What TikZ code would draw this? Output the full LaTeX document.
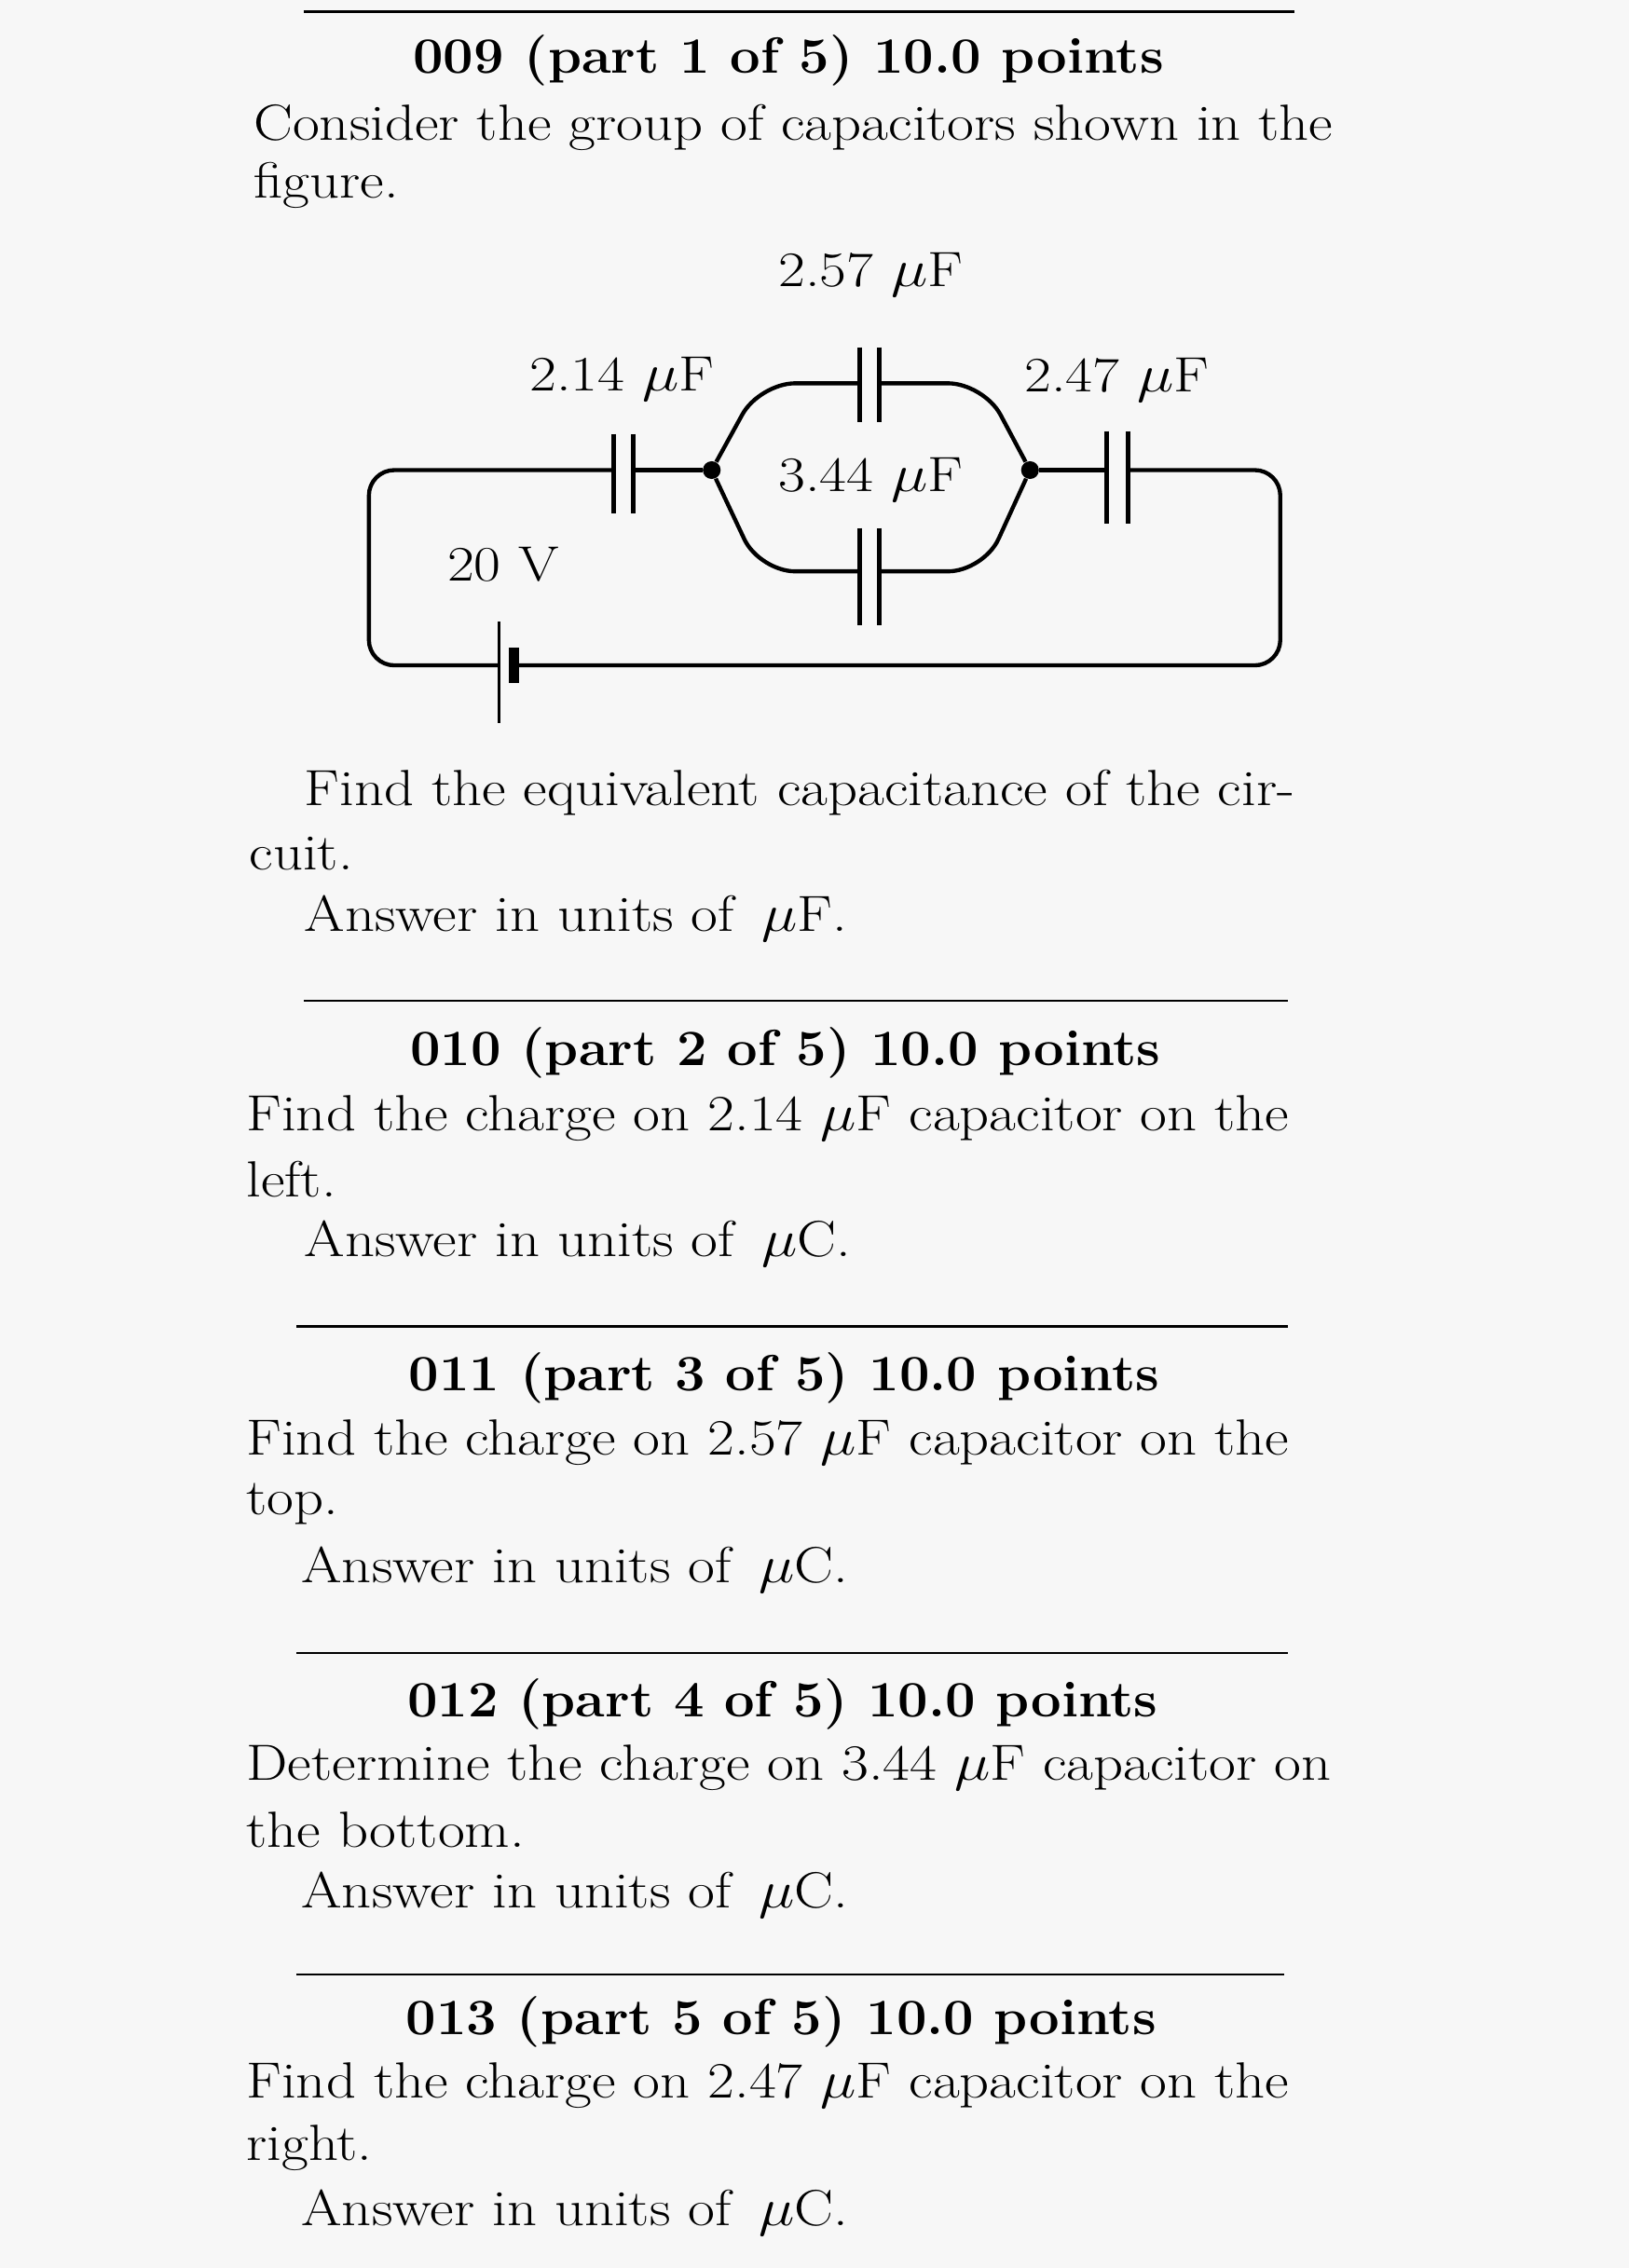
\documentclass[tikz,border=0pt]{standalone}
\begin{document}
\begin{tikzpicture}[x=0.02cm,y=-0.02cm,
  txt/.style={anchor=west,inner sep=0,font=\fontsize{20}{22}\selectfont,transform shape,xscale=1.15},
  hdr/.style={anchor=center,inner sep=0,font=\fontsize{20}{22}\selectfont\bfseries,transform shape,xscale=1.06},
  lbl/.style={anchor=center,inner sep=0,font=\fontsize{19.5}{22}\selectfont,transform shape,xscale=1.18},
  wire/.style={line width=1.6pt,line join=round},
  plate/.style={line width=1.8pt},
  rule/.style={line width=0.8pt},
  dot/.style={circle,fill=black,inner sep=0,minimum size=7pt}]
\fill[gray!6] (0,0) rectangle (1126,1568);
\useasboundingbox (0,0) rectangle (1126,1568);
% rules
\foreach \y/\a/\b in {8/210/895,692/210/890,917/205/890,1143/205/890,1365/205/888}
  \draw[rule] (\a,\y) -- (\b,\y);
% text
\node[hdr] (h1) at (545,42) {009 (part 1 of 5) 10.0 points};
\node[txt] (t1) at (175,88) {Consider the group of capacitors shown in the};
\node[txt] (t2) at (175,128) {figure.};
\node[txt] (t3) at (210,548) {Find the equivalent capacitance of the cir-};
\node[txt] (t4) at (172,590) {cuit.};
\node[txt] (t5) at (210,635) {Answer in units of \,$\mu$F.};
\node[hdr] (h2) at (543,728) {010 (part 2 of 5) 10.0 points};
\node[txt] (t6) at (170,773) {Find the charge on 2.14 $\mu$F capacitor on the};
\node[txt] (t7) at (170,815) {left.};
\node[txt] (t8) at (210,860) {Answer in units of \,$\mu$C.};
\node[hdr] (h3) at (542,953) {011 (part 3 of 5) 10.0 points};
\node[txt] (t9) at (170,997) {Find the charge on 2.57 $\mu$F capacitor on the};
\node[txt] (t10) at (170,1040) {top.};
\node[txt] (t11) at (208,1085) {Answer in units of \,$\mu$C.};
\node[hdr] (h4) at (541,1178) {012 (part 4 of 5) 10.0 points};
\node[txt] (t12) at (170,1222) {Determine the charge on 3.44 $\mu$F capacitor on};
\node[txt] (t13) at (170,1265) {the bottom.};
\node[txt] (t14) at (208,1310) {Answer in units of \,$\mu$C.};
\node[hdr] (h5) at (540,1398) {013 (part 5 of 5) 10.0 points};
\node[txt] (t15) at (170,1442) {Find the charge on 2.47 $\mu$F capacitor on the};
\node[txt] (t16) at (170,1485) {right.};
\node[txt] (t17) at (208,1530) {Answer in units of \,$\mu$C.};
% circuit coordinates
\coordinate (L) at (492,325);
\coordinate (R) at (712,325);
\node[dot] (nL) at (L) {};
\node[dot] (nR) at (R) {};
% left loop and 2.14
\draw[wire,rounded corners=10pt] (424,325) -- (255,325) -- (255,460) -- (345,460);
\draw[wire] (438,325) -- (nL);
\draw[plate] (424,300) -- (424,355) (438,300) -- (438,355);
% 2.47 and right
\draw[wire] (nR) -- (765,325);
\draw[plate] (765,298) -- (765,362) (780,298) -- (780,362);
\draw[wire,rounded corners=10pt] (780,325) -- (885,325) -- (885,460) -- (355,460);
% battery
\draw[line width=1.4pt] (345,430) -- (345,500);
\draw[line width=4pt] (355,448) -- (355,472);
% top branch 2.57
\draw[wire,rounded corners=14pt] (nL) -- (525,265) -- (594,265);
\draw[wire,rounded corners=14pt] (608,265) -- (680,265) -- (nR);
\draw[plate] (594,240) -- (594,292) (608,240) -- (608,292);
% bottom branch 3.44
\draw[wire,rounded corners=14pt] (nL) -- (525,395) -- (594,395);
\draw[wire,rounded corners=14pt] (608,395) -- (680,395) -- (nR);
\draw[plate] (594,365) -- (594,432) (608,365) -- (608,432);
% labels
\node[lbl] (c1) at (602,190) {2.57 $\mu$F};
\node[lbl] (c2) at (430,262) {2.14 $\mu$F};
\node[lbl] (c3) at (772,263) {2.47 $\mu$F};
\node[lbl] (c4) at (602,332) {3.44 $\mu$F};
\node[lbl] (v) at (348,390) {20 V};
\end{tikzpicture}
\end{document}
